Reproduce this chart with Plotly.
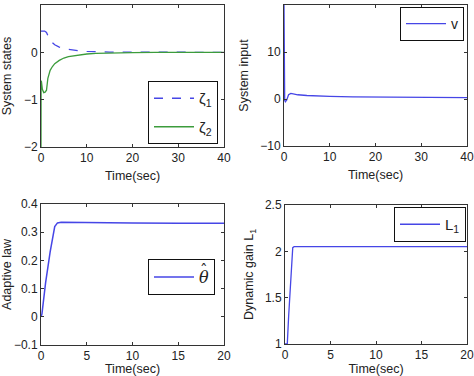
import plotly.graph_objects as go

# ---- data ----
t_z = [0, 0.05, 0.3, 0.8, 1.2, 1.6, 2, 3, 4, 5, 6, 8, 10, 12, 15, 20, 25, 30, 35, 40]
zeta1 = [0.45, 0.45, 0.46, 0.45, 0.42, 0.33, 0.25, 0.16, 0.11, 0.08, 0.06, 0.035, 0.02, 0.012, 0.006, 0.003, 0.001, 0.0, 0.0, 0.0]
t_z2 = [0, 0.02, 0.1, 0.3, 0.6, 0.9, 1.2, 1.5, 2, 2.5, 3, 4, 5, 6, 8, 10, 12, 15, 20, 25, 30, 40]
zeta2 = [-2.0, -0.6, -0.62, -0.78, -0.85, -0.84, -0.8, -0.55, -0.38, -0.3, -0.24, -0.17, -0.12, -0.09, -0.055, -0.035, -0.022, -0.012, -0.005, -0.002, -0.001, 0.0]

t_v = [0, 0.05, 0.15, 0.3, 0.6, 1.0, 1.5, 2, 3, 5, 8, 10, 15, 20, 30, 40]
v = [20.0, 5.0, -0.3, -0.6, -0.2, 0.9, 1.2, 1.1, 0.9, 0.75, 0.6, 0.55, 0.45, 0.4, 0.35, 0.3]

t_th = [0, 0.1, 0.5, 1.0, 1.5, 1.8, 2.2, 3, 5, 10, 15, 20]
theta = [0.0, 0.01, 0.12, 0.23, 0.32, 0.333, 0.335, 0.335, 0.334, 0.333, 0.332, 0.332]

t_L = [0, 0.25, 0.4, 0.7, 0.85, 1.0, 5, 10, 15, 20]
L1 = [1.0, 1.0, 1.3, 1.9, 2.04, 2.05, 2.05, 2.05, 2.05, 2.05]

BLUE = "#4646e6"
GREEN = "#3c9c3c"
AX = "#333333"
FONT = "Liberation Sans, Arial, sans-serif"
SERIF = "DejaVu Serif"

fig = go.Figure()
fig.add_trace(go.Scatter(x=t_z, y=zeta1, mode="lines", name="ζ<sub>1</sub>",
                         line=dict(color=BLUE, width=1.3, dash="dash"), legendgroup="a",
                         xaxis="x", yaxis="y", legend="legend"))
fig.add_trace(go.Scatter(x=t_z2, y=zeta2, mode="lines", name="ζ<sub>2</sub>",
                         line=dict(color=GREEN, width=1.3), legendgroup="b",
                         xaxis="x", yaxis="y", legend="legend"))
fig.add_trace(go.Scatter(x=t_v, y=v, mode="lines", name="v",
                         line=dict(color=BLUE, width=1.3),
                         xaxis="x2", yaxis="y2", legend="legend2"))
fig.add_trace(go.Scatter(x=t_th, y=theta, mode="lines", name="<i>θ</i>",
                         line=dict(color=BLUE, width=1.5),
                         xaxis="x3", yaxis="y3", legend="legend3"))
fig.add_trace(go.Scatter(x=t_L, y=L1, mode="lines", name="L<sub>1</sub>",
                         line=dict(color=BLUE, width=1.3),
                         xaxis="x4", yaxis="y4", legend="legend4"))

W, H = 474, 376
def dx(a, b):
    return [a / W, b / W]
def dy(top, bot):
    return [1 - bot / H, 1 - top / H]

common = dict(showline=True, linecolor=AX, linewidth=1, mirror="ticks",
              ticks="inside", ticklen=3, tickcolor=AX, showgrid=False,
              zeroline=False, automargin=False,
              tickfont=dict(family=FONT, size=12, color="#222"),
              title_font=dict(family=FONT, size=12.5, color="#222"))

lay = dict(width=W, height=H, margin=dict(l=0, r=0, t=0, b=0),
           paper_bgcolor="white", plot_bgcolor="white",
           font=dict(family=FONT, color="#222"))

lay["xaxis"] = dict(common, domain=dx(41, 224), range=[0, 40], tickvals=[0, 10, 20, 30, 40],
                    anchor="y", title=dict(text="Time(sec)", standoff=6))
lay["yaxis"] = dict(common, domain=dy(5, 147), range=[-2, 1], tickvals=[-2, -1, 0, 1],
                    ticktext=["−2", "−1", "0", "1"],
                    anchor="x", title=dict(text="System states", standoff=9))
lay["xaxis2"] = dict(common, domain=dx(284, 467), range=[0, 40], tickvals=[0, 10, 20, 30, 40],
                     anchor="y2", title=dict(text="Time(sec)", standoff=6))
lay["yaxis2"] = dict(common, domain=dy(5, 146), range=[-10, 20], tickvals=[-10, 0, 10, 20],
                     ticktext=["−10", "0", "10", "20"],
                     anchor="x2", title=dict(text="System input", standoff=8))
lay["xaxis3"] = dict(common, domain=dx(41, 224), range=[0, 20], tickvals=[0, 5, 10, 15, 20],
                     anchor="y3", title=dict(text="Time(sec)", standoff=6))
lay["yaxis3"] = dict(common, domain=dy(204, 345), range=[-0.1, 0.4],
                     tickvals=[-0.1, 0, 0.1, 0.2, 0.3, 0.4],
                     ticktext=["−0.1", "0", "0.1", "0.2", "0.3", "0.4"],
                     anchor="x3", title=dict(text="Adaptive law", standoff=8))
lay["xaxis4"] = dict(common, domain=dx(285, 467), range=[0, 20], tickvals=[0, 5, 10, 15, 20],
                     anchor="y4", title=dict(text="Time(sec)", standoff=6))
lay["yaxis4"] = dict(common, domain=dy(205, 344), range=[1, 2.5], tickvals=[1, 1.5, 2, 2.5],
                     anchor="x4", title=dict(text="Dynamic gain L<sub>1</sub>", standoff=8))

leg = dict(bgcolor="white", bordercolor="#111", borderwidth=1,
           font=dict(family=FONT, size=15, color="#222"),
           xanchor="left", yanchor="top", tracegroupgap=6, itemwidth=40)
lay["legend"] = dict(leg, x=148 / W, y=1 - 81 / H)
lay["legend2"] = dict(leg, x=400 / W, y=1 - 7 / H,
                      font=dict(family=FONT, size=14, color="#222"))
lay["legend3"] = dict(leg, x=148 / W, y=1 - 259 / H,
                      font=dict(family=SERIF, size=16, color="#222"))
lay["legend4"] = dict(leg, x=394 / W, y=1 - 207 / H)

# circumflex accent of the theta-hat legend label
lay["annotations"] = [dict(text="ˆ", xref="paper", yref="paper", x=204 / W, y=1 - 270 / H,
                           showarrow=False, font=dict(family=SERIF, size=15, color="#222"),
                           xanchor="center", yanchor="middle")]

fig.update_layout(**lay)
fig.write_html("out.html", config={"displayModeBar": False},
               post_script="document.body.style.margin='0';document.body.style.overflow='hidden';")
